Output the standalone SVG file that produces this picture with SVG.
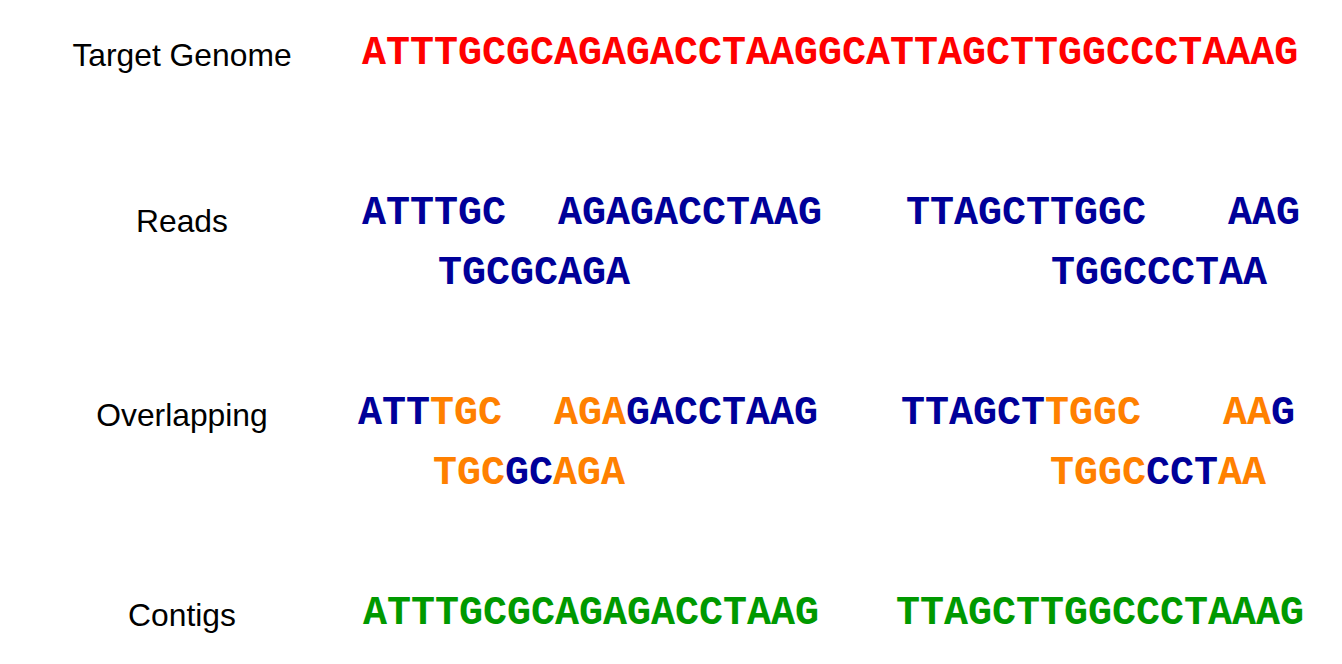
<svg xmlns="http://www.w3.org/2000/svg" width="1342" height="664" viewBox="0 0 1342 664">
<style>
.lbl{font-family:"Liberation Sans",Arial,sans-serif;font-size:31.8px;fill:#000;text-anchor:middle}
.seq{font-family:"Courier New","Nimbus Mono PS","FreeMono","Liberation Mono",monospace;font-size:40px;font-weight:bold}
.r{fill:#FF0000}.b{fill:#000099}.o{fill:#FF8000}.g{fill:#009900}
</style>
<rect width="1342" height="664" fill="#fff"/>
<g id="labels">
<text class="lbl" x="182" y="66">Target Genome</text>
<text class="lbl" x="182" y="232">Reads</text>
<text class="lbl" x="182" y="426">Overlapping</text>
<text class="lbl" x="182" y="626">Contigs</text>
</g>
<g id="target">
<text class="seq r" x="362" y="64">ATTTGCGCAGAGACCTAAGGCATTAGCTTGGCCCTAAAG</text>
</g>
<g id="reads">
<text class="seq b" x="362" y="224">ATTTGC</text>
<text class="seq b" x="558" y="224">AGAGACCTAAG</text>
<text class="seq b" x="906" y="224">TTAGCTTGGC</text>
<text class="seq b" x="1228" y="224">AAG</text>
<text class="seq b" x="438" y="284">TGCGCAGA</text>
<text class="seq b" x="1051" y="284">TGGCCCTAA</text>
</g>
<g id="overlapping">
<text class="seq" x="358" y="424"><tspan class="b">ATT</tspan><tspan class="o">TGC</tspan></text>
<text class="seq" x="554" y="424"><tspan class="o">AGA</tspan><tspan class="b">GACCTAAG</tspan></text>
<text class="seq" x="901" y="424"><tspan class="b">TTAGCT</tspan><tspan class="o">TGGC</tspan></text>
<text class="seq" x="1223" y="424"><tspan class="o">AA</tspan><tspan class="b">G</tspan></text>
<text class="seq" x="433" y="484"><tspan class="o">TGC</tspan><tspan class="b">GC</tspan><tspan class="o">AGA</tspan></text>
<text class="seq" x="1050" y="484"><tspan class="o">TGGC</tspan><tspan class="b">CCT</tspan><tspan class="o">AA</tspan></text>
</g>
<g id="contigs">
<text class="seq g" x="363" y="624">ATTTGCGCAGAGACCTAAG</text>
<text class="seq g" x="896" y="624">TTAGCTTGGCCCTAAAG</text>
</g>
<g id="connectors"></g>
</svg>
